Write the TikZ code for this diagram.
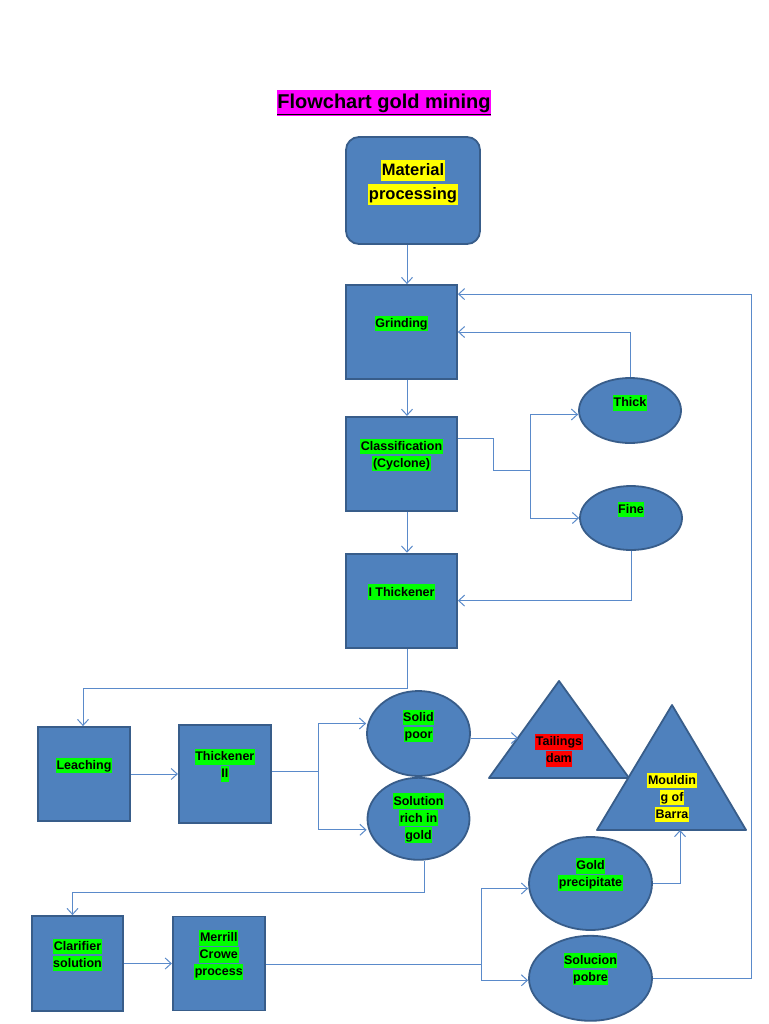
\documentclass[tikz,border=0pt]{standalone}
\usepackage{fontspec}
\setmainfont{Liberation Sans}
\usetikzlibrary{shapes.geometric, arrows.meta, positioning}

\definecolor{boxc}{HTML}{4F81BD}
\definecolor{boxd}{HTML}{385D8A}
\definecolor{linec}{HTML}{5A8ACA}
\definecolor{hlgreen}{rgb}{0,1,0}
\definecolor{hlyellow}{rgb}{1,1,0}
\definecolor{hlred}{rgb}{1,0,0}
\definecolor{hlmag}{rgb}{1,0,1}

\setlength{\fboxsep}{0.6pt}
\newcommand{\hl}[2][hlgreen]{\colorbox{#1}{\rule[-0.25em]{0pt}{1.15em}#2}}
\newcommand{\lbl}[2][8pt]{\raisebox{#1}[\height][\depth]{\begin{tabular}{@{}c@{}}#2\end{tabular}}}

\begin{document}
\begin{tikzpicture}[
      x=1pt, y=-1pt,
      font=\fontsize{12.5}{17}\selectfont\bfseries,
      node distance=36pt,
      block/.style={rectangle, draw=boxd, fill=boxc, line width=1.8pt, minimum width=111pt, minimum height=94pt, inner sep=0pt},
      ellip/.style={ellipse, draw=boxd, fill=boxc, line width=1.8pt, inner sep=0pt},
      tri/.style={draw=boxd, fill=boxc, line width=1.8pt, line join=round},
      link/.style={draw=linec, line width=1pt},
      line/.style={link, -{Straight Barb[length=6pt,width=11pt]}}
    ]

    \path[fill=white] (0,0) rectangle (768,1024);

    % Nodes
    \node (title) at (384,103) {\fontsize{20}{24}\selectfont\hl[hlmag]{\underline{Flowchart gold mining}}};
    \node[block, rounded corners=13pt, minimum width=134pt, minimum height=107pt] (mat) at (413,190.5) {\fontsize{16.5}{24}\selectfont\lbl[7.5pt]{\hl[hlyellow]{Material}\\\hl[hlyellow]{processing}}};
    \coordinate (spine) at (407,0);

    \node[block] (grind) at (401.5,332) {\lbl{\hl{Grinding}}};
    \node[block, below=of grind] (classif) {\lbl{\hl{Classification}\\\hl{(Cyclone)}}};
    \node[block, below=41pt of classif] (ithick) {\lbl{\hl{I Thickener}}};
    \node[ellip, minimum width=102pt, minimum height=65pt] (thick) at (630,410.5) {\lbl[7pt]{\hl{Thick}}};
    \node[ellip, minimum width=102pt, minimum height=64pt] (fine) at (631,518) {\lbl{\hl{Fine}}};

    \node[block, minimum width=92pt] (leach) at (84,774) {\lbl{\hl{Leaching}}};
    \node[block, minimum width=92pt, minimum height=98pt, right=47pt of leach] (thickii) {\lbl{\hl{Thickener}\\\hl{II}}};
    \node[ellip, minimum width=103pt, minimum height=85pt] (solid) at (418.5,733.5) {\lbl[7pt]{\hl{Solid}\\\hl{poor}}};
    \node[ellip, minimum width=102pt, minimum height=82pt, below=0pt of solid] (solrich) {\lbl[0pt]{\hl{Solution}\\\hl{rich in}\\\hl{gold}}};

    \draw[tri] (489,778) -- (559,681) -- (629,778) -- cycle;
    \node (tail) at (559,751) {\lbl[0pt]{\hl[hlred]{Tailings}\\\hl[hlred]{dam}}};
    \draw[tri] (597,830) -- (672,705) -- (746,830) -- cycle;
    \node (mould) at (672,798) {\lbl[0pt]{\hl[hlyellow]{Mouldin}\\\hl[hlyellow]{g of}\\\hl[hlyellow]{Barra}}};
    \coordinate (tailin) at (518,738);
    \coordinate (mouldin) at (680,830);

    \node[block, minimum width=91pt, minimum height=95pt] (clar) at (77.5,963.5) {\lbl{\hl{Clarifier}\\\hl{solution}}};
    \node[block, minimum width=92pt, right=48pt of clar] (merrill) {\lbl{\hl{Merrill}\\\hl{Crowe}\\\hl{process}}};
    \node[ellip, minimum width=123pt, minimum height=93pt] (gold) at (590.5,883.5) {\lbl[8.5pt]{\hl{Gold}\\\hl{precipitate}}};
    \node[ellip, minimum width=123pt, minimum height=85pt, below=4pt of gold] (solpob) {\lbl[8.5pt]{\hl{Solucion}\\\hl{pobre}}};

    % Connections
    \draw[line] (mat.south -| spine) -- (grind.north -| spine);
    \draw[line] (grind.south -| spine) -- (classif.north -| spine);
    \draw[line] (classif.south -| spine) -- (ithick.north -| spine);

    \coordinate (split1) at (530,470);
    \draw[link] ([yshift=-23pt]classif.north east) -| (493,470) -- (split1);
    \draw[line] (split1) |- ([yshift=-4pt]thick.west);
    \draw[line] (split1) |- (fine.west);
    \draw[line] (thick.north) |- (grind.east);
    \draw[line] (fine.south) |- (ithick.east);
    \draw[line] (solpob.east) -- ++(99,0) |- ([yshift=-10pt]grind.north east);

    \draw[line] (ithick.south -| spine) -- ++(0,40) -| ([xshift=-1pt]leach.north);
    \draw[line] (leach.east) -- (leach.east -| thickii.west);
    \coordinate (split2) at (318,771);
    \draw[link] (thickii.east |- split2) -- (split2);
    \draw[line] (split2) |- ([yshift=10pt]solid.west);
    \draw[line] (split2) |- ([yshift=-11pt]solrich.west);
    \draw[line] (solid.east |- tailin) -- (tailin);

    \draw[line] ([xshift=6pt]solrich.south) -- ++(0,32) -| ([xshift=-5pt]clar.north);
    \draw[line] (clar.east) -- (clar.east -| merrill.west);
    \coordinate (split3) at (481,964);
    \draw[link] (merrill.east |- split3) -- (split3);
    \draw[line] (split3) |- ([yshift=-5pt]gold.west);
    \draw[line] (split3) |- ([yshift=-2pt]solpob.west);
    \draw[line] (gold.east) -| (mouldin);
  \end{tikzpicture}
\end{document}
